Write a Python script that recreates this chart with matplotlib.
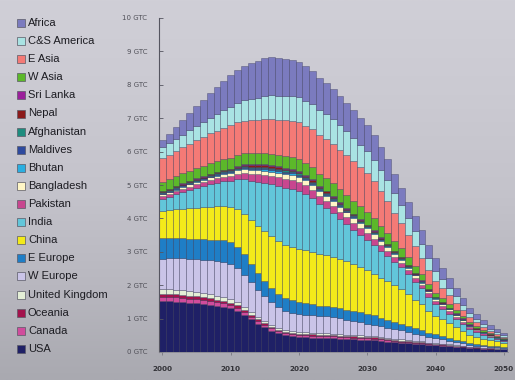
import matplotlib
matplotlib.use('Agg')
import matplotlib.pyplot as plt
import numpy as np
from matplotlib.patches import Rectangle
from matplotlib.colors import LinearSegmentedColormap

years = list(range(2000, 2051))

usa = [1.53,1.52,1.51,1.50,1.48,1.47,1.45,1.42,1.39,1.36,1.32,
       1.24,1.12,0.98,0.85,0.74,0.64,0.56,0.50,0.47,0.45,
       0.44,0.43,0.42,0.42,0.41,0.40,0.39,0.38,0.37,0.36,
       0.35,0.33,0.31,0.29,0.27,0.26,0.24,0.23,0.21,0.20,
       0.18,0.17,0.15,0.14,0.12,0.11,0.10,0.09,0.085,0.08]
canada = [0.13,0.13,0.13,0.12,0.12,0.12,0.11,0.11,0.10,0.10,0.09,
          0.09,0.08,0.08,0.07,0.07,0.07,0.06,0.06,0.06,0.06,
          0.06,0.06,0.055,0.055,0.055,0.05,0.05,0.05,0.05,0.05,
          0.05,0.045,0.045,0.04,0.04,0.04,0.035,0.035,0.03,0.03,
          0.03,0.025,0.02,0.02,0.015,0.015,0.012,0.01,0.01,0.008]
oceania = [0.09,0.09,0.09,0.09,0.085,0.085,0.08,0.08,0.075,0.075,0.07,
           0.065,0.06,0.055,0.055,0.05,0.045,0.045,0.04,0.04,0.04,
           0.04,0.04,0.04,0.04,0.04,0.04,0.035,0.035,0.035,0.035,
           0.035,0.03,0.03,0.03,0.03,0.025,0.025,0.025,0.02,0.02,
           0.02,0.015,0.015,0.012,0.01,0.01,0.008,0.007,0.006,0.005]
uk = [0.14,0.14,0.135,0.135,0.13,0.12,0.12,0.115,0.11,0.105,0.10,
      0.095,0.09,0.08,0.07,0.06,0.058,0.055,0.053,0.051,0.05,
      0.05,0.048,0.047,0.046,0.045,0.045,0.045,0.045,0.045,0.045,
      0.043,0.04,0.038,0.036,0.035,0.032,0.03,0.026,0.023,0.02,
      0.018,0.015,0.013,0.011,0.01,0.009,0.008,0.007,0.006,0.005]
w_europe = [0.90,0.92,0.94,0.96,0.97,0.98,1.00,1.02,1.04,1.05,1.05,
            1.02,0.97,0.90,0.82,0.75,0.68,0.62,0.58,0.56,0.54,
            0.53,0.52,0.51,0.51,0.50,0.48,0.45,0.42,0.39,0.36,
            0.34,0.32,0.30,0.29,0.27,0.25,0.22,0.20,0.17,0.15,
            0.13,0.11,0.09,0.08,0.06,0.05,0.045,0.04,0.035,0.03]
e_europe = [0.63,0.62,0.61,0.60,0.60,0.60,0.61,0.62,0.64,0.65,0.66,
            0.64,0.60,0.55,0.50,0.45,0.42,0.40,0.38,0.37,0.36,
            0.35,0.34,0.32,0.31,0.30,0.30,0.30,0.30,0.30,0.30,
            0.28,0.26,0.24,0.21,0.19,0.17,0.16,0.15,0.13,0.12,
            0.11,0.09,0.08,0.06,0.05,0.04,0.035,0.03,0.025,0.02]
china = [0.81,0.83,0.86,0.89,0.92,0.95,0.97,0.99,1.01,1.03,1.05,
         1.12,1.22,1.32,1.42,1.50,1.55,1.58,1.60,1.60,1.59,
         1.58,1.57,1.55,1.53,1.50,1.47,1.44,1.40,1.35,1.30,
         1.25,1.20,1.15,1.10,1.05,0.96,0.86,0.76,0.65,0.55,
         0.49,0.43,0.37,0.31,0.25,0.22,0.19,0.17,0.15,0.13]
india = [0.36,0.40,0.45,0.50,0.55,0.60,0.63,0.67,0.70,0.74,0.78,
         0.90,1.03,1.16,1.30,1.45,1.56,1.65,1.71,1.74,1.74,
         1.68,1.60,1.50,1.40,1.30,1.20,1.11,1.03,0.96,0.90,
         0.85,0.80,0.75,0.70,0.66,0.60,0.54,0.48,0.42,0.36,
         0.32,0.29,0.25,0.21,0.18,0.15,0.12,0.10,0.08,0.06]
pakistan = [0.08,0.08,0.09,0.09,0.10,0.10,0.11,0.12,0.13,0.14,0.15,
            0.17,0.19,0.21,0.23,0.24,0.25,0.26,0.27,0.27,0.27,
            0.26,0.25,0.23,0.22,0.21,0.21,0.21,0.21,0.21,0.21,
            0.20,0.18,0.16,0.14,0.12,0.11,0.11,0.10,0.10,0.09,
            0.08,0.08,0.07,0.07,0.06,0.05,0.04,0.03,0.025,0.02]
bangladesh = [0.05,0.05,0.05,0.06,0.06,0.06,0.07,0.08,0.08,0.09,0.10,
              0.10,0.11,0.11,0.12,0.12,0.13,0.14,0.14,0.15,0.15,
              0.15,0.15,0.15,0.15,0.15,0.15,0.15,0.15,0.15,0.15,
              0.14,0.13,0.12,0.10,0.09,0.08,0.08,0.07,0.07,0.06,
              0.055,0.05,0.045,0.04,0.03,0.025,0.02,0.015,0.012,0.01]
bhutan = [0.024,0.024,0.024,0.024,0.024,0.024,0.024,0.024,0.024,0.024,0.024,
          0.026,0.030,0.034,0.038,0.040,0.040,0.038,0.036,0.034,0.032,
          0.032,0.032,0.030,0.030,0.030,0.028,0.026,0.024,0.022,0.020,
          0.020,0.020,0.018,0.018,0.018,0.016,0.016,0.014,0.014,0.012,
          0.012,0.010,0.010,0.010,0.008,0.008,0.006,0.006,0.005,0.004]
maldives = [0.022,0.022,0.022,0.023,0.023,0.023,0.024,0.024,0.024,0.025,0.025,
            0.027,0.030,0.033,0.036,0.038,0.038,0.037,0.035,0.033,0.032,
            0.031,0.030,0.030,0.029,0.028,0.027,0.025,0.023,0.021,0.020,
            0.019,0.019,0.018,0.017,0.017,0.016,0.015,0.014,0.013,0.012,
            0.011,0.010,0.009,0.009,0.008,0.007,0.006,0.005,0.005,0.004]
afghanistan = [0.020,0.020,0.021,0.021,0.022,0.022,0.023,0.023,0.024,0.024,0.025,
               0.027,0.031,0.035,0.039,0.042,0.042,0.040,0.038,0.036,0.034,
               0.033,0.032,0.031,0.030,0.030,0.029,0.027,0.025,0.023,0.021,
               0.021,0.020,0.019,0.018,0.018,0.017,0.016,0.015,0.014,0.013,
               0.012,0.011,0.010,0.010,0.008,0.008,0.007,0.006,0.005,0.004]
nepal = [0.030,0.030,0.030,0.030,0.030,0.030,0.030,0.030,0.030,0.030,0.030,
         0.033,0.038,0.043,0.048,0.050,0.050,0.048,0.045,0.043,0.040,
         0.040,0.040,0.038,0.038,0.038,0.035,0.033,0.030,0.028,0.025,
         0.025,0.025,0.023,0.023,0.023,0.020,0.020,0.018,0.018,0.015,
         0.015,0.013,0.013,0.013,0.010,0.010,0.008,0.008,0.006,0.005]
sri_lanka = [0.018,0.018,0.018,0.018,0.018,0.018,0.018,0.018,0.018,0.018,0.018,
             0.020,0.022,0.025,0.028,0.030,0.030,0.028,0.027,0.025,0.024,
             0.024,0.024,0.022,0.022,0.022,0.021,0.020,0.018,0.016,0.015,
             0.015,0.015,0.014,0.014,0.014,0.012,0.012,0.011,0.011,0.009,
             0.009,0.008,0.008,0.008,0.006,0.006,0.005,0.005,0.004,0.003]
w_asia = [0.27,0.28,0.28,0.29,0.29,0.30,0.31,0.31,0.32,0.32,0.33,
          0.33,0.33,0.33,0.33,0.33,0.34,0.34,0.35,0.35,0.36,
          0.36,0.37,0.37,0.38,0.39,0.39,0.39,0.39,0.39,0.39,
          0.37,0.35,0.33,0.30,0.27,0.24,0.21,0.18,0.15,0.12,
          0.11,0.10,0.09,0.07,0.06,0.05,0.04,0.03,0.025,0.02]
e_asia = [0.69,0.72,0.75,0.78,0.81,0.84,0.86,0.89,0.91,0.94,0.96,
          0.97,0.98,0.99,1.00,1.02,1.03,1.05,1.07,1.08,1.10,
          1.11,1.13,1.14,1.16,1.17,1.18,1.19,1.19,1.17,1.15,
          1.10,1.03,0.95,0.85,0.75,0.66,0.58,0.50,0.42,0.35,
          0.31,0.27,0.23,0.19,0.15,0.12,0.10,0.08,0.06,0.05]
cs_america = [0.33,0.35,0.36,0.38,0.40,0.42,0.44,0.46,0.49,0.51,0.54,
              0.57,0.60,0.63,0.66,0.69,0.71,0.72,0.73,0.74,0.75,
              0.75,0.75,0.75,0.75,0.75,0.74,0.72,0.70,0.68,0.66,
              0.65,0.64,0.62,0.59,0.55,0.50,0.45,0.40,0.35,0.30,
              0.26,0.23,0.19,0.15,0.12,0.10,0.08,0.06,0.05,0.04]
africa = [0.21,0.29,0.37,0.45,0.53,0.60,0.67,0.74,0.81,0.89,0.96,
          1.00,1.04,1.08,1.11,1.14,1.14,1.13,1.11,1.08,1.05,
          1.03,1.00,0.97,0.94,0.90,0.88,0.85,0.83,0.80,0.78,
          0.73,0.68,0.63,0.57,0.50,0.47,0.44,0.42,0.40,0.38,
          0.33,0.28,0.24,0.20,0.17,0.14,0.12,0.10,0.08,0.07]

# stacking order: bottom to top
regions = ['USA', 'Canada', 'Oceania', 'United Kingdom', 'W Europe', 'E Europe',
           'China', 'India', 'Pakistan', 'Bangladesh', 'Bhutan', 'Maldives',
           'Afghanistan', 'Nepal', 'Sri Lanka', 'W Asia', 'E Asia',
           'C&S America', 'Africa']
series = [usa, canada, oceania, uk, w_europe, e_europe, china, india, pakistan,
          bangladesh, bhutan, maldives, afghanistan, nepal, sri_lanka, w_asia,
          e_asia, cs_america, africa]
colors = ['#1f2066', '#d04c9c', '#a3124c', '#e4efd6', '#cac4e8', '#1f7ec6',
          '#f3ea1a', '#62c6da', '#c8468f', '#fff6c6', '#2aaee0', '#2e4a9e',
          '#1e8c7e', '#8b1a1a', '#9b1f9b', '#5cb82a', '#f47a76',
          '#a9e3e3', '#7b7bbf']
ytick_labels = ['0 GTC', '1 GTC', '2 GTC', '3 GTC', '4 GTC', '5 GTC',
                '6 GTC', '7 GTC', '8 GTC', '9 GTC', '10 GTC']
xtick_years = [2000, 2010, 2020, 2030, 2040, 2050]

for s in series:
    assert len(s) == len(years)

W, H = 515, 380
fig = plt.figure(figsize=(W / 100, H / 100), dpi=100)

# background gradient
bg = fig.add_axes([0, 0, 1, 1], zorder=-10)
grad = np.linspace(0, 1, 256).reshape(-1, 1)
cmap = LinearSegmentedColormap.from_list(
    'bg', ['#d0cfd7', '#cbcad2', '#c4c3cb', '#b8b7bf', '#a9a9b0'])
bg.imshow(grad, aspect='auto', cmap=cmap, extent=[0, 1, 0, 1])
bg.axis('off')

ax = fig.add_axes([159 / W, 1 - 352 / H, (508 - 159) / W, (352 - 18) / H])
ax.set_facecolor('none')
bottom = np.zeros(len(years))
for name, vals, col in zip(regions, series, colors):
    v = np.array(vals)
    ax.bar(years, v, bottom=bottom, width=1.0, color=col,
           edgecolor=(0.15, 0.15, 0.28, 0.55), linewidth=0.4, label=name)
    bottom += v

ax.set_xlim(1999.5, 2050.6)
ax.set_ylim(0, 10)
ax.set_yticks(range(11))
ax.set_yticklabels(ytick_labels)
ax.set_xticks(xtick_years)
ax.set_xticklabels([str(y) for y in xtick_years])
for sp in ['top', 'right']:
    ax.spines[sp].set_visible(False)
ax.spines['left'].set_color('#555560')
ax.spines['left'].set_linewidth(0.8)
ax.spines['bottom'].set_color('#8a8a92')
ax.spines['bottom'].set_linewidth(0.6)
ax.tick_params(axis='y', direction='in', length=3, width=0.6, color='#555560',
               pad=8.5, labelsize=5, labelcolor='#505058')
ax.tick_params(axis='x', direction='out', length=2, width=0.6, color='#777780',
               pad=8, labelsize=5.2, labelcolor='#333338')
for lbl in ax.get_xticklabels():
    lbl.set_fontweight('bold')

# legend (top entry = Africa)
for i, (name, col) in enumerate(zip(regions[::-1], colors[::-1])):
    yc = 23 + 18.1 * i
    fig.add_artist(Rectangle((17 / W, 1 - (yc + 4) / H), 8 / W, 8 / H,
                             transform=fig.transFigure, facecolor=col,
                             edgecolor='#5a5a66', linewidth=0.5))
    fig.text(28 / W, 1 - yc / H, name, fontsize=8, family='Liberation Sans',
             color='#1c1c22', va='center', ha='left')

fig.savefig('out.png', dpi=100)
